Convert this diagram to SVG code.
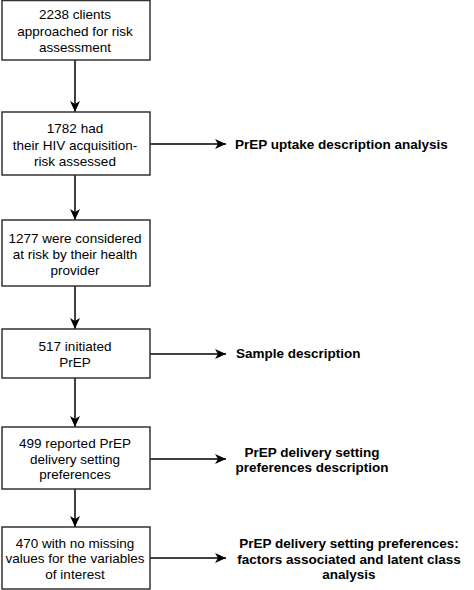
<svg xmlns="http://www.w3.org/2000/svg" width="474" height="590" viewBox="0 0 474 590">
<defs>
<style>
.box{fill:#fff;stroke:#333;stroke-width:1.5}
.t{font-family:"Liberation Sans",Arial,sans-serif;font-size:13.5px;fill:#000;text-anchor:middle}
.b{font-family:"Liberation Sans",Arial,sans-serif;font-size:13.5px;font-weight:bold;fill:#000}
.c{text-anchor:middle}
.ln{stroke:#000;stroke-width:1.5;fill:none;marker-end:url(#ah)}
</style>
<marker id="ah" markerUnits="userSpaceOnUse" markerWidth="12" markerHeight="10" refX="11" refY="5" orient="auto" viewBox="0 0 12 10">
<path d="M0,0 L11,5 L0,10 L3,5 Z" fill="#000"/>
</marker>
</defs>
<rect width="474" height="590" fill="#fff"/>
<g id="connectors">
<line class="ln" x1="75" y1="60" x2="75" y2="112"/>
<line class="ln" x1="75" y1="175" x2="75" y2="220"/>
<line class="ln" x1="75" y1="286" x2="75" y2="329"/>
<line class="ln" x1="75" y1="378" x2="75" y2="427"/>
<line class="ln" x1="75" y1="489" x2="75" y2="527"/>
<line class="ln" x1="150" y1="144" x2="226" y2="144"/>
<line class="ln" x1="150" y1="354" x2="226" y2="354"/>
<line class="ln" x1="150" y1="459" x2="226" y2="459"/>
<line class="ln" x1="150" y1="558" x2="226" y2="558"/>
</g>
<g id="n1">
<rect class="box" x="2" y="0.5" width="148" height="59.5"/>
<text class="t" x="75" y="19">2238 clients</text>
<text class="t" x="75" y="35.5">approached for risk</text>
<text class="t" x="75" y="52">assessment</text>
</g>
<g id="n2">
<rect class="box" x="2" y="112" width="148" height="63"/>
<text class="t" x="75" y="133">1782 had</text>
<text class="t" x="75" y="149.5">their HIV acquisition-</text>
<text class="t" x="75" y="166">risk assessed</text>
</g>
<g id="n3">
<rect class="box" x="2" y="220" width="148" height="66"/>
<text class="t" x="75" y="242.5">1277 were considered</text>
<text class="t" x="75" y="258.5">at risk by their health</text>
<text class="t" x="75" y="275">provider</text>
</g>
<g id="n4">
<rect class="box" x="2" y="329" width="148" height="49"/>
<text class="t" x="75" y="351">517 initiated</text>
<text class="t" x="75" y="367">PrEP</text>
</g>
<g id="n5">
<rect class="box" x="2" y="427" width="148" height="62"/>
<text class="t" x="75" y="447.5">499 reported PrEP</text>
<text class="t" x="75" y="464">delivery setting</text>
<text class="t" x="75" y="479">preferences</text>
</g>
<g id="n6">
<rect class="box" x="2" y="527" width="148" height="62"/>
<text class="t" x="75" y="547.5">470 with no missing</text>
<text class="t" x="75" y="563">values for the variables</text>
<text class="t" x="75" y="578.5">of interest</text>
</g>
<g id="l1"><text class="b" x="235" y="149">PrEP uptake description analysis</text></g>
<g id="l2"><text class="b" x="236" y="358">Sample description</text></g>
<g id="l3">
<text class="b c" x="312" y="456.5">PrEP delivery setting</text>
<text class="b c" x="312" y="472">preferences description</text>
</g>
<g id="l4">
<text class="b c" x="349" y="547.5">PrEP delivery setting preferences:</text>
<text class="b c" x="349" y="563.5">factors associated and latent class</text>
<text class="b c" x="349" y="579">analysis</text>
</g>
</svg>
